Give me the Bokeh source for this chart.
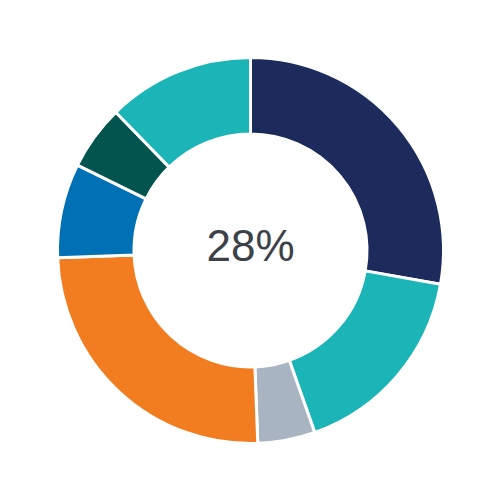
import math
from bokeh.plotting import figure
from bokeh.models import ColumnDataSource, Range1d
from bokeh.core.properties import value
from bokeh.embed import file_html
from bokeh.resources import INLINE

categories = ["A", "B", "C", "D", "E", "F", "G"]
shares = [27.8, 16.8, 4.8, 25.0, 7.9, 5.4, 12.3]
colors = ["#1c2b5b", "#1bb4b7", "#a9b4c3", "#f27d21", "#0071b5", "#02544f", "#1bb4b7"]
center_label = "28%"

total = sum(shares)
starts, ends = [], []
cum = 0.0
for s in shares:
    starts.append(math.pi / 2 - 2 * math.pi * cum / total)
    cum += s
    ends.append(math.pi / 2 - 2 * math.pi * cum / total)

src = ColumnDataSource(dict(cat=categories, val=shares, start=starts, end=ends, color=colors))

W = 484
p = figure(width=W, height=W, output_backend="svg", toolbar_location=None,
           x_range=Range1d(-250, W - 250), y_range=Range1d(250 - W, 250),
           min_border=0)
p.axis.visible = False
p.grid.visible = False
p.outline_line_color = None
p.background_fill_color = "white"

p.annular_wedge(x=0, y=0, inner_radius=116.5, outer_radius=193,
                start_angle="start", end_angle="end", direction="clock",
                fill_color="color", line_color="white", line_width=3, source=src)

p.text(x=[0], y=[5], text=[center_label], text_align="center", text_baseline="middle",
       text_font=value("Liberation Sans"), text_font_size="44px", text_color="#3d4149")

open("out.html", "w").write(file_html(p, INLINE))
